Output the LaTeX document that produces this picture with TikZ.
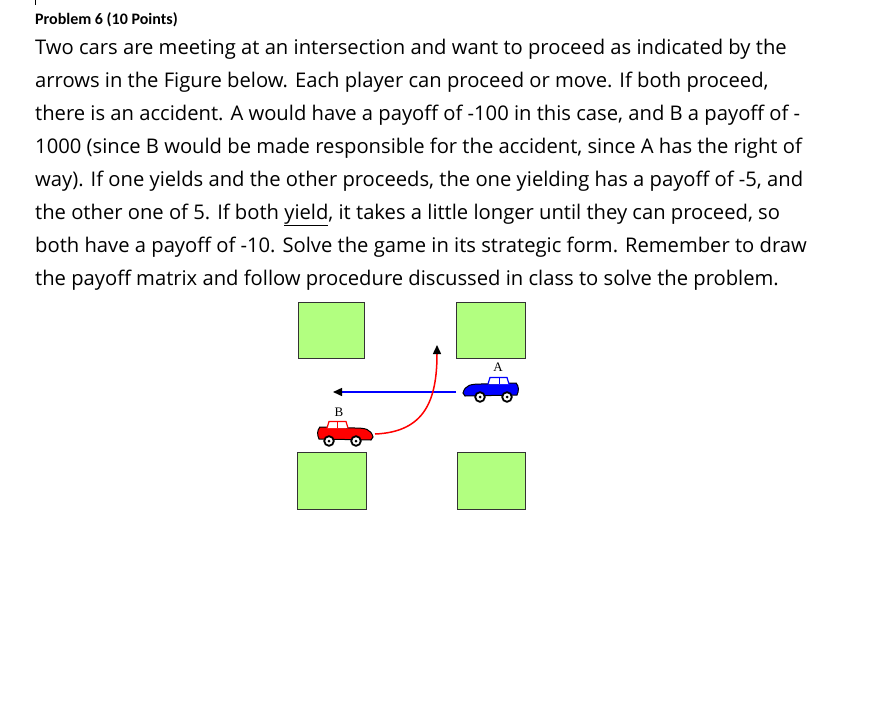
\documentclass[tikz,border=0pt]{standalone}
\usepackage{fontspec}
\setmainfont{Carlito}
\newfontfamily\bodyfont{Open Sans}
\newfontfamily\seriffont{Liberation Serif}
\usetikzlibrary{arrows.meta}
\begin{document}
\begin{tikzpicture}[x=1pt,y=-1pt,
  block/.style={draw=black!80,line width=1pt,fill={rgb,255:red,178;green,255;blue,128}},
  bodyline/.style={anchor=base west,font=\bodyfont\fontsize{20.2}{24}\selectfont,inner sep=0pt},
  carpic/.pic={
    \fill[#1,draw=black,line width=1pt] (0,16) .. controls (2,8) and (8,7) .. (18,7) -- (53,6) .. controls (56,9) and (56,14) .. (54,18) -- (2,19) -- cycle;
    \draw[#1,line width=1.2pt,fill=white] (25,7) -- (27,0.5) -- (44,0.5) -- (46,7);
    \draw[#1,line width=1pt] (36,0.5) -- (36,7);
    \foreach \wx in {17,44}{\filldraw[fill=white,draw=black,line width=1.8pt] (\wx,20) circle (4.8); \fill (\wx,20) circle (1.5);}
  }]
\useasboundingbox (0,0) rectangle (872,712);
\draw[line width=0.6pt] (35,0) -- (35,5);
\node[anchor=base west,inner sep=0pt,font=\fontsize{16}{18}\bfseries\selectfont] (title) at (35,24) {Problem 6 (10 Points)};
\node[bodyline] (l1) at (35,54) {Two cars are meeting at an intersection and want to proceed as indicated by the};
\node[bodyline] (l2) at (35,87) {arrows in the Figure below. Each player can proceed or move. If both proceed,};
\node[bodyline] (l3) at (35,120) {there is an accident. A would have a payoff of -100 in this case, and B a payoff of -};
\node[bodyline] (l4) at (35,153) {1000 (since B would be made responsible for the accident, since A has the right of};
\node[bodyline] (l5) at (35,186) {way). If one yields and the other proceeds, the one yielding has a payoff of -5, and};
\node[bodyline] (l6) at (35,219) {the other one of 5. If both \underline{yield}, it takes a little longer until they can proceed, so};
\node[bodyline] (l7) at (35,252) {both have a payoff of -10. Solve the game in its strategic form. Remember to draw};
\node[bodyline] (l8) at (35,285) {the payoff matrix and follow procedure discussed in class to solve the problem.};
% squares
\draw[block] (298,302) rectangle (364,358);
\draw[block] (456,302) rectangle (525,358);
\draw[block] (297,452) rectangle (366,509);
\draw[block] (457,452) rectangle (525,509);
% paths
\coordinate (bs) at (456,392);
\coordinate (be) at (333,392);
\draw[blue,line width=1.5pt,-{Triangle[length=9pt,width=8pt,color=black]}] (bs) -- (be);
\coordinate (rs) at (375,434);
\coordinate (re) at (437,345);
\draw[red,line width=1.5pt,-{Triangle[length=9pt,width=8pt,color=black]}] (rs) .. controls (425,432) and (437,400) .. (re);
% cars
\pic at (463,377) {carpic=blue};
\pic[xscale=-1] at (373,421) {carpic=red};
\node[font=\seriffont\fontsize{13}{14}\selectfont,inner sep=0pt] (la) at (498,367) {A};
\node[font=\seriffont\fontsize{13}{14}\selectfont,inner sep=0pt] (lb) at (339,412) {B};
\end{tikzpicture}
\end{document}
